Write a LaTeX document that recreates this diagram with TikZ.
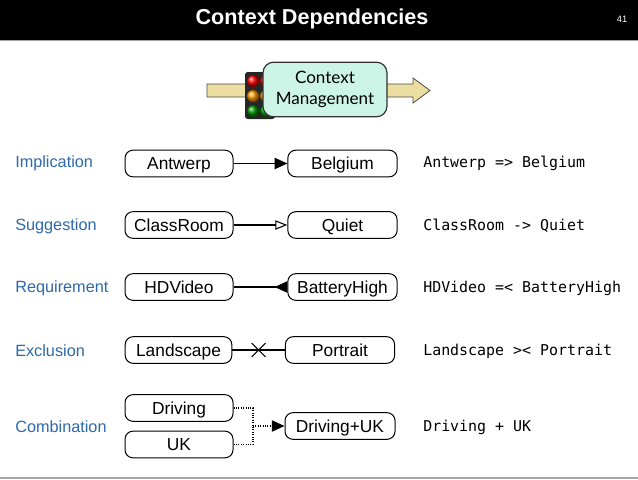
\documentclass[tikz,border=0pt]{standalone}
\usepackage{fontspec}
\setmainfont{Liberation Sans}
\setmonofont{DejaVu Sans Mono}
\newfontfamily\boxfont{Lato}
\usetikzlibrary{arrows.meta,shapes.misc}
\definecolor{lblue}{RGB}{45,105,170}
\definecolor{mint}{RGB}{204,245,232}
\definecolor{khaki}{RGB}{236,222,160}
\begin{document}
\begin{tikzpicture}[x=0.75pt,y=-0.75pt,
  feat/.style={draw, rounded corners=6pt, line width=0.75pt, minimum height=20pt,
    inner sep=0pt, text height=9.4pt, text depth=0pt, font=\fontsize{13}{15}\selectfont},
  lw/.style={minimum width=81pt},
  rw/.style={minimum width=82pt},
  lbl/.style={anchor=west, text=lblue, inner sep=0pt, font=\fontsize{12.2}{14}\selectfont},
  code/.style={anchor=west, inner sep=0pt, font=\ttfamily\fontsize{11.2}{13}\selectfont},
  conn/.style={line width=0.8pt},
  filltip/.style={-{Triangle[length=9.5pt,width=8.5pt]}},
  opentip/.style={-{Triangle[open,length=9pt,width=7pt,fill=white]}},
  revtip/.style={-{Triangle[reversed,length=9.5pt,width=8.5pt]}}
]
\useasboundingbox (0,0) rectangle (638,479);
% title bar
\fill[black] (0,0) rectangle (638,40);
\draw[gray!70, line width=1pt] (0,40.5) -- (638,40.5);
\draw[gray!70, line width=1pt] (0,478) -- (638,478);
\node[text=white, font=\bfseries\fontsize{16.2}{18}\selectfont] (title) at (312,19) {Context Dependencies};
\node[text=white, font=\fontsize{7}{8}\selectfont] (num) at (622,19) {41};

% context management arrow
\draw[fill=khaki, draw=gray!60!black, line width=0.6pt]
  (207,84) -- (413,84) -- (413,78) -- (430,90.5) -- (413,103) -- (413,97) -- (207,97) -- cycle;
% traffic light
\fill[black!85, rounded corners=2pt] (245,72) rectangle (275,119);
\shade[ball color=red] (253,81) circle (6);
\shade[ball color=orange!80!yellow] (253,96) circle (6);
\shade[ball color=green!60!black] (253,111) circle (6);
\shade[ball color=red] (266,81) circle (6);
\shade[ball color=orange!80!yellow] (266,96) circle (6);
\shade[ball color=green!60!black] (266,111) circle (6);
\node[draw=black!80, fill=mint, rounded corners=8pt, line width=0.9pt, minimum width=93pt,
  minimum height=41pt, align=center, inner sep=0pt,
  font=\boxfont\fontsize{12.8}{15.5}\selectfont] (cm) at (325,89.5) {Context\\Management};

% rows
\node[lbl] (l1) at (15,163.5) {Implication};
\node[feat,lw] (antwerp) at (179,163.5) {Antwerp};
\node[feat,rw] (belgium) at (342.5,163.5) {Belgium};
\node[code] (c1) at (423,163.5) {Antwerp => Belgium};
\draw[conn,filltip] (antwerp.east) -- (belgium.west);

\node[lbl] (l2) at (15,226) {Suggestion};
\node[feat,lw] (classroom) at (179,225) {ClassRoom};
\node[feat,rw] (quiet) at (342.5,225) {Quiet};
\node[code] (c2) at (423,226) {ClassRoom -> Quiet};
\draw[conn,opentip] (classroom.east) -- (quiet.west);

\node[lbl] (l3) at (15,288) {Requirement};
\node[feat,lw] (hdvideo) at (179,287) {HDVideo};
\node[feat,rw] (battery) at (342.5,287) {BatteryHigh};
\node[code] (c3) at (423,288) {HDVideo =< BatteryHigh};
\draw[conn,revtip] (hdvideo.east) -- (battery.west);

\node[lbl] (l4) at (15,351) {Exclusion};
\node[feat,minimum width=80pt] (landscape) at (178.5,350) {Landscape};
\node[feat,rw] (portrait) at (340,350) {Portrait};
\node[code] (c4) at (423,351) {Landscape >< Portrait};
\draw[conn] (landscape.east) -- node[cross out, draw, line width=0.8pt, minimum size=9.5pt, inner sep=0pt] (x) {} (portrait.west);

\node[lbl] (l5) at (15,427) {Combination};
\node[feat,lw] (driving) at (179,408) {Driving};
\node[feat,lw] (uk) at (179,444.5) {UK};
\node[feat,minimum width=82.5pt] (duk) at (340,426) {Driving+UK};
\node[code] (c5) at (423,427) {Driving + UK};
\coordinate (j) at (253,426);
\draw[conn, densely dotted] (driving.east) -| (j) |- (uk.east);
\draw[conn, densely dotted, filltip] (j) -- (duk.west);
\end{tikzpicture}
\end{document}
